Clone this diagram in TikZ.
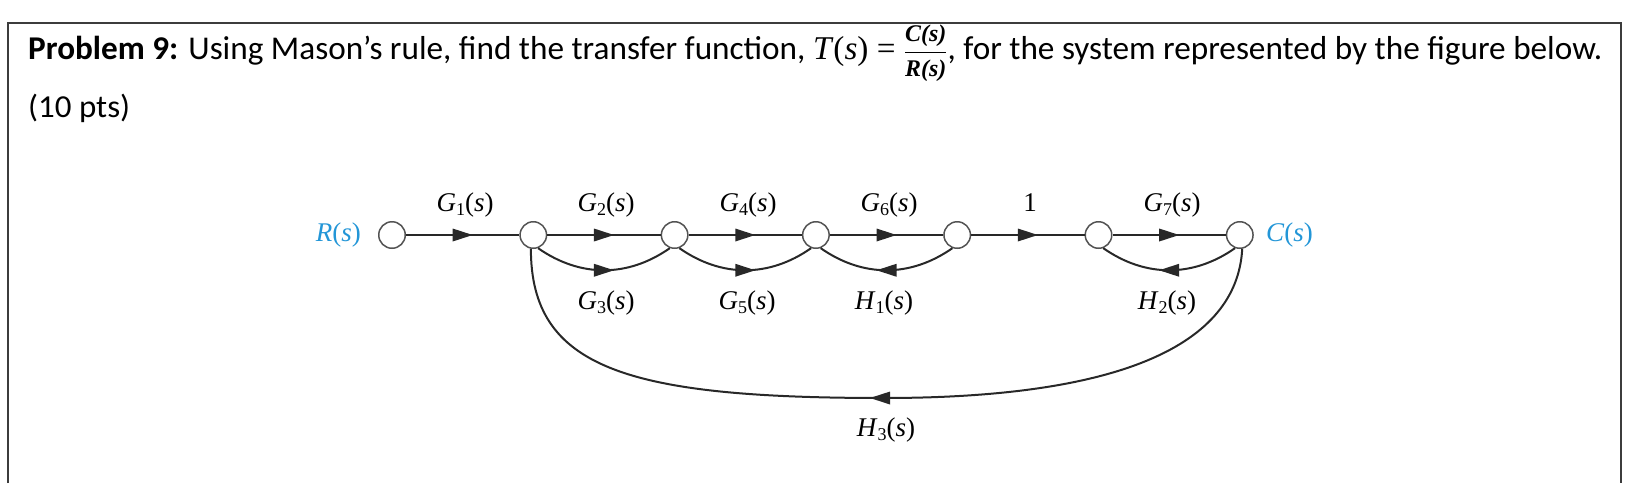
\documentclass[tikz,border=0pt]{standalone}
\usepackage{fontspec}
\setmainfont{Carlito}
\newfontfamily\tnr{Liberation Serif}
\usetikzlibrary{decorations.markings}
\definecolor{lblue}{RGB}{35,150,215}
\definecolor{edgec}{RGB}{40,40,40}
\definecolor{framec}{RGB}{60,60,60}
\newcommand\lbl[2]{\textit{#1}\raisebox{-0.35ex}{\fontsize{18}{18}\selectfont #2}(\textit{s})}
\newcommand\fracpart[1]{\hbox{\tnr\fontsize{23}{23}\selectfont\bfseries\itshape #1(s)}}
\tikzset{
  sn/.style={circle, draw=edgec!80, line width=1.5pt, minimum size=26.5pt, inner sep=0pt, fill=white},
  br/.style={line width=2pt, draw=edgec},
  midarr/.style={postaction={decorate}, decoration={markings, mark=at position 0.5 with {\fill[edgec] (10pt,0pt) -- (-10pt,6.5pt) -- (-10pt,-6.5pt) -- cycle;}}},
  lab/.style={font=\tnr\fontsize{27}{27}\selectfont, inner sep=0pt},
  ttl/.style={font=\fontsize{32}{32}\selectfont, inner sep=0pt, anchor=base west}
}
\begin{document}
\begin{tikzpicture}[x=1pt,y=1pt]
\useasboundingbox (0,0) rectangle (1636,-483);
\draw[line width=2pt, draw=framec] (8,-483) -- (8,-23) -- (1621,-23) -- (1621,-483);
\node[ttl] (t1) at (28,-59) {\resizebox{1574pt}{!}{\textbf{Problem 9:} Using Mason’s rule, find the transfer function, {\tnr\textit{T}(\textit{s}) = }$\displaystyle\frac{\fracpart{C}}{\fracpart{R}}$, for the system represented by the figure below.}};
\node[ttl] (t2) at (28,-117) {\scalebox{1.03}[1]{(10 pts)}};
% nodes
\node[sn] (n1) at (392,-235) {};
\node[sn] (n2) at (533.3,-235) {};
\node[sn] (n3) at (674.6,-235) {};
\node[sn] (n4) at (815.9,-235) {};
\node[sn] (n5) at (957.2,-235) {};
\node[sn] (n6) at (1098.5,-235) {};
\node[sn] (n7) at (1239.8,-235) {};
\coordinate (h3b) at (884,-398);
% forward branches
\draw[br,midarr] (n1) -- (n2);
\draw[br,midarr] (n2) -- (n3);
\draw[br,midarr] (n3) -- (n4);
\draw[br,midarr] (n4) -- (n5);
\draw[br,midarr] (n5) -- (n6);
\draw[br,midarr] (n6) -- (n7);
% lower arcs
\draw[br,midarr] (n2.-70) to[out=-35,in=-145] (n3.-110);
\draw[br,midarr] (n3.-70) to[out=-35,in=-145] (n4.-110);
\draw[br,midarr] (n5.-110) to[out=-145,in=-35] (n4.-70);
\draw[br,midarr] (n7.-110) to[out=-145,in=-35] (n6.-70);
% H3 feedback
\draw[br,midarr] (n7.-80) .. controls (1237,-345) and (1120,-398) .. (h3b)
                 .. controls (626,-398) and (531,-368) .. (n2.-100);
% labels
\node[lab, text=lblue, anchor=east] (lr) at ([xshift=-17pt]n1.west) {\textit{R}(\textit{s})};
\node[lab, text=lblue, anchor=west] (lc) at ([xshift=12pt]n7.east) {\textit{C}(\textit{s})};
\node[lab] (lg1) at (465,-205) {\lbl{G}{1}};
\node[lab] (lg2) at (606,-205) {\lbl{G}{2}};
\node[lab] (lg4) at (748,-205) {\lbl{G}{4}};
\node[lab] (lg6) at (889,-205) {\lbl{G}{6}};
\node[lab] (l1) at (1030,-203) {1};
\node[lab] (lg7) at (1172,-205) {\lbl{G}{7}};
\node[lab] (lg3) at (606,-303) {\lbl{G}{3}};
\node[lab] (lg5) at (747,-303) {\lbl{G}{5}};
\node[lab] (lh1) at (884,-303) {\lbl{H}{1}};
\node[lab] (lh2) at (1167,-303) {\lbl{H}{2}};
\node[lab] (lh3) at (886,-430) {\lbl{H}{3}};
\end{tikzpicture}
\end{document}
